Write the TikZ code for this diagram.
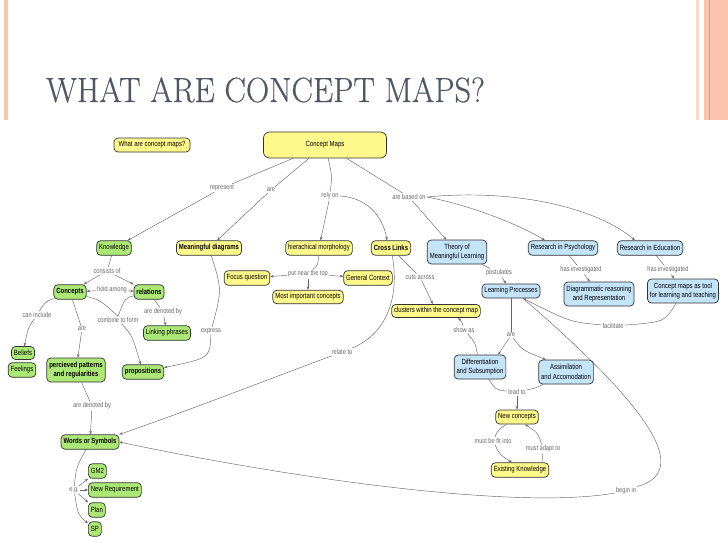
\documentclass[tikz,border=0pt]{standalone}
\usepackage{fontspec}
\newfontfamily\cmapfont[FakeStretch=0.8]{Liberation Sans}
\newfontfamily\titlefont[FakeStretch=0.92, FakeBold=0.5]{Latin Modern Roman}
\usetikzlibrary{arrows.meta}

\definecolor{cgreen}{RGB}{172,232,118}
\definecolor{cyellow}{RGB}{255,249,140}
\definecolor{cblue}{RGB}{196,228,250}
\definecolor{titlegray}{RGB}{80,88,102}
\definecolor{barpink}{RGB}{252,196,174}
\definecolor{barorange}{RGB}{232,150,100}

\tikzset{
  cnode/.style = {rectangle, rounded corners=4pt, draw=black!80, line width=0.7pt,
                  font=\cmapfont\fontsize{7.5}{9.5}\selectfont, align=center,
                  inner xsep=2.5pt, inner ysep=0pt, minimum height=14.5pt},
  grn/.style   = {cnode, fill=cgreen},
  ylw/.style   = {cnode, fill=cyellow},
  blu/.style   = {cnode, fill=cblue},
  two/.style   = {minimum height=24pt},
  lbl/.style   = {font=\cmapfont\fontsize{7.1}{8}\selectfont, text=black!60, inner sep=1pt},
  link/.style  = {draw=black!60, line width=0.45pt},
  arr/.style   = {link, -{Stealth[length=3.5pt, width=2.6pt]}}
}

\begin{document}
\begin{tikzpicture}[x=1pt, y=-1pt]
  \useasboundingbox (0,0) rectangle (728,546);

  % slide frame
  \fill[barpink] (4,0) rectangle (8,120);
  \fill[barpink!70] (696,0) rectangle (699,120);
  \fill[barpink] (704,0) rectangle (728,120);
  \draw[barorange, line width=1pt] (709.5,0) -- (709.5,120);
  \node[anchor=base west, inner sep=0pt, text=titlegray,
        font=\titlefont\fontsize{35}{40}\selectfont] (title) at (46,102)
        {WHAT ARE CONCEPT MAPS?};

  % top level
  \node (q)    [ylw, minimum width=76pt, minimum height=14pt] at (152,145) {What are concept maps?};
  \node (cmap) [ylw, minimum width=123pt, minimum height=26pt, rounded corners=6pt] at (325,145) {Concept Maps};

  % second row
  \node (kn)  [grn] at (114,248) {Knowledge};
  \node (md)  [ylw] at (209,248) {\textbf{Meaningful diagrams}};
  \node (hm)  [ylw] at (319,248) {hierachical morphology};
  \node (cl)  [ylw] at (391,248) {\textbf{Cross Links}};
  \node (tml) [blu, two] at (457,252) {Theory of\\Meaningful Learning};
  \node (rip) [blu] at (563,248) {Research in Psychology};
  \node (rie) [blu] at (650,248) {Research in Education};

  % knowledge branch
  \node (con) [grn] at (70,292)  {\textbf{Concepts}};
  \node (rel) [grn] at (149,292) {\textbf{relations}};
  \node (lp)  [grn] at (167,333) {Linking phrases};
  \node (bel) [grn, minimum height=13pt] at (23,353) {Beliefs};
  \node (fee) [grn] at (22,370)  {Feelings};
  \node (ppr) [grn, two] at (76,370) {\textbf{percieved patterns}\\\textbf{and regularities}};
  \node (pro) [grn] at (143,372) {\textbf{propositions}};
  \node (ws)  [grn] at (90,442)  {\textbf{Words or Symbols}};
  \node (gm2) [grn, anchor=west] at (88,471) {GM2};
  \node (nr)  [grn, anchor=west] at (88,490) {New Requirement};
  \node (pl)  [grn, anchor=west] at (88,510) {Plan};
  \node (sp)  [grn, anchor=west] at (88,529) {SP};

  % morphology branch
  \node (fq)  [ylw] at (247,278) {Focus question};
  \node (gc)  [ylw] at (368,278) {General Context};
  \node (mic) [ylw, minimum height=13.5pt] at (308,297) {Most important concepts};
  \node (clu) [ylw, minimum height=13pt] at (436,311) {clusters within the concept map};

  % learning branch
  \node (lpr) [blu, minimum height=14pt] at (511,291) {Learning Processes};
  \node (dia) [blu, two] at (599,294) {Diagrammatic reasoning\\and Representation};
  \node (cmt) [blu, two] at (683,291) {Concept maps as tool\\for learning and teaching};
  \node (dif) [blu, two] at (480,367) {Differentiation\\and Subsumption};
  \node (ass) [blu, two] at (566,372) {Assimilation\\and Accomodation};
  \node (nc)  [ylw, minimum height=14pt] at (517,417) {New concepts};
  \node (ek)  [ylw] at (520,470) {Existing Knowledge};

  % linking phrases
  \node (l_rep)   [lbl] at (222,188) {represent};
  \node (l_are1)  [lbl] at (271,190) {are};
  \node (l_rely)  [lbl] at (330,196) {rely on};
  \node (l_based) [lbl] at (409,197) {are based on};
  \node (l_cons)  [lbl] at (107,271) {consists of};
  \node (l_hold)  [lbl] at (112,290) {hold among};
  \node (l_den1)  [lbl] at (163,312) {are denoted by};
  \node (l_incl)  [lbl] at (37,315)  {can include};
  \node (l_are2)  [lbl] at (82,329)  {are};
  \node (l_comb)  [lbl] at (118,320) {combine to form};
  \node (l_expr)  [lbl] at (211,331) {express};
  \node (l_den2)  [lbl] at (92,406)  {are denoted by};
  \node (l_eg)    [lbl] at (74,490)  {e.g.};
  \node (l_near)  [lbl] at (308,274) {put near the top};
  \node (l_cuts)  [lbl] at (420,277) {cuts across};
  \node (l_relt)  [lbl] at (342,352) {relate to};
  \node (l_post)  [lbl] at (499,273) {postulates};
  \node (l_inv1)  [lbl] at (581,270) {has investigated};
  \node (l_inv2)  [lbl] at (668,270) {has investigated};
  \node (l_fac)   [lbl] at (613,326) {facilitate};
  \node (l_are3)  [lbl] at (511,335) {are};
  \node (l_show)  [lbl] at (464,330) {show as};
  \node (l_lead)  [lbl] at (517,392) {lead to};
  \node (l_fit)   [lbl] at (493,441) {must be fit into};
  \node (l_adapt) [lbl] at (543,449) {must adapt to};
  \node (l_begin) [lbl] at (626,491) {begin in};

  % from concept maps
  \draw[link] (cmap) -- (l_rep);
  \draw[arr]  (l_rep) -- (kn);
  \draw[link] (cmap) -- (l_are1);
  \draw[arr]  (l_are1) -- (md);
  \draw[link] (cmap) .. controls (332,175) .. (l_rely);
  \draw[arr]  (l_rely) -- (hm);
  \draw[arr]  (l_rely.east) .. controls (372,198) and (384,222) .. ([xshift=-4pt]cl.north);
  \draw[link] (cmap) -- (l_based);
  \draw[arr]  (l_based) -- (tml);
  \draw[arr]  (l_based.east) .. controls (470,205) and (520,225) .. ([xshift=-18pt]rip.north);
  \draw[arr]  (l_based.east) .. controls (520,188) and (600,210) .. ([xshift=-15pt]rie.north);

  % knowledge
  \draw[link] (kn) -- (l_cons);
  \draw[arr]  (l_cons) -- (con);
  \draw[arr]  (l_cons) -- (rel);
  \draw[arr]  (l_hold) -- (con);
  \draw[arr]  (l_hold) -- (rel);
  \draw[link] (rel) -- (l_den1);
  \draw[arr]  (l_den1) -- (lp);
  \draw[link] (con) .. controls (45,302) .. (l_incl);
  \draw[arr]  (l_incl) .. controls (28,328) .. (bel);
  \draw[link] (con) -- (l_are2);
  \draw[arr]  (l_are2) -- (ppr);
  \draw[link] (con) .. controls (100,300) .. (l_comb.north);
  \draw[link] (rel) .. controls (125,298) .. (l_comb.north);
  \draw[arr]  (l_comb) .. controls (132,335) .. (pro);
  \draw[link] (md) .. controls (222,290) .. (l_expr);
  \draw[arr]  (l_expr) .. controls (210,358) .. (pro);
  \draw[link] (ppr) -- (l_den2);
  \draw[arr]  (l_den2) -- (ws);
  \draw[link] (ws) .. controls (76,468) .. (l_eg);
  \draw[arr]  (l_eg) -- (gm2);
  \draw[arr]  (l_eg) -- (nr);
  \draw[arr]  (l_eg) -- (pl);
  \draw[arr]  (l_eg) .. controls (78,515) .. (sp);

  % morphology and cross links
  \draw[link] (hm) .. controls (318,265) .. (l_near);
  \draw[arr]  (l_near) -- (fq);
  \draw[arr]  (l_near) -- (gc);
  \draw[arr]  (l_near) -- (mic);
  \draw[link] (cl) -- (l_cuts);
  \draw[arr]  (l_cuts) -- (clu);
  \draw[link] (cl) .. controls (400,300) and (385,335) .. (l_relt);
  \draw[arr]  (l_relt) .. controls (280,375) and (190,410) .. (ws.north east);

  % theory and research
  \draw[link] (tml) -- (l_post);
  \draw[arr]  (l_post) -- (lpr);
  \draw[link] (rip) -- (l_inv1);
  \draw[arr]  (l_inv1) -- (dia);
  \draw[link] (rie) -- (l_inv2);
  \draw[arr]  (l_inv2) -- (cmt);
  \draw[link] (cmt) .. controls (665,322) .. (l_fac);
  \draw[arr]  (l_fac) .. controls (570,322) .. ([xshift=12pt]lpr.south);

  % learning processes
  \draw[link] (lpr) -- (l_are3);
  \draw[arr]  (l_are3) .. controls (505,345) .. ([xshift=18pt]dif.north);
  \draw[arr]  (l_are3) .. controls (522,350) .. ([xshift=-20pt]ass.north);
  \draw[link] (dif) .. controls (475,342) .. (l_show);
  \draw[arr]  (l_show) .. controls (462,322) .. ([xshift=22pt]clu.south);
  \draw[link] (dif) .. controls (496,390) .. (l_lead);
  \draw[link] (ass) .. controls (536,388) .. (l_lead);
  \draw[arr]  (l_lead) -- (nc);
  \draw[link] (nc) .. controls (498,430) .. (l_fit);
  \draw[arr]  (l_fit) .. controls (500,455) .. ([xshift=-8pt]ek.north);
  \draw[link] ([xshift=22pt]ek.north) -- (l_adapt);
  \draw[arr]  (l_adapt) .. controls (538,433) .. ([xshift=8pt]nc.south);
  \draw[link] ([xshift=12pt]lpr.south) .. controls (635,395) and (698,470) .. (l_begin.north east);
  \draw[arr]  (l_begin) .. controls (520,510) and (300,480) .. (ws.east);
\end{tikzpicture}
\end{document}
